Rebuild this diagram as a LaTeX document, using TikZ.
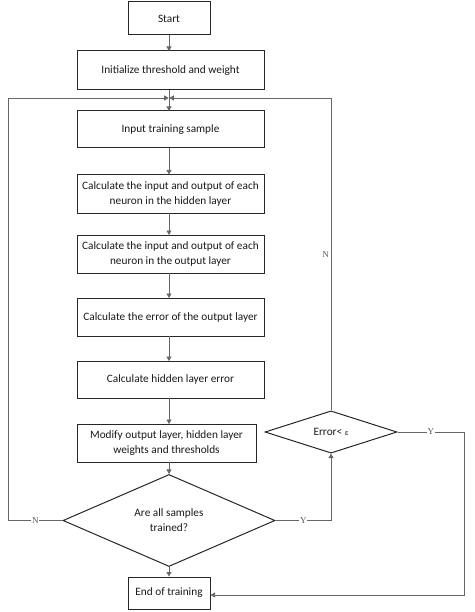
\documentclass[tikz,border=0pt]{standalone}
\usepackage{fontspec}
\setmainfont{Carlito}
\newfontfamily\labfont{Liberation Serif}
\usetikzlibrary{shapes.geometric,arrows.meta}
\begin{document}
\begin{tikzpicture}[x=1pt,y=-1pt,
  box/.style={draw=black!85,line width=1pt,align=center,font=\fontsize{11.3}{15}\selectfont,text=black!90,inner sep=1pt},
  dia/.style={draw=black!85,line width=1pt,diamond,align=center,font=\fontsize{11.3}{15}\selectfont,text=black!90,inner sep=0pt},
  conn/.style={draw=black!60,line width=0.75pt},
  arr/.style={conn,-{Triangle[width=5pt,length=4.5pt]}},
  lab/.style={font=\labfont\fontsize{9}{10}\selectfont,text=black!65,fill=white,inner sep=0.8pt}]
\useasboundingbox (0,0) rectangle (474,612);
\node[box,minimum width=82pt,minimum height=33pt] (start) at (169,18.5) {Start};
\node[box,minimum width=187pt,minimum height=39pt] (init) at (170.5,70.5) {Initialize threshold and weight};
\node[box,minimum width=187pt,minimum height=37pt] (input) at (170.5,129.5) {Input training sample};
\node[box,minimum width=187pt,minimum height=39pt] (hid) at (170.5,194) {Calculate the input and output of each\\neuron in the hidden layer};
\node[box,minimum width=187pt,minimum height=38pt] (out) at (170.5,254) {Calculate the input and output of each\\neuron in the output layer};
\node[box,minimum width=187pt,minimum height=38pt] (err) at (170.5,317) {Calculate the error of the output layer};
\node[box,minimum width=187pt,minimum height=37pt] (herr) at (170.5,379.5) {Calculate hidden layer error};
\node[box,minimum width=179pt,minimum height=38pt] (mod) at (166.5,443) {Modify output layer, hidden layer\\weights and thresholds};
\node[dia,minimum width=212pt,minimum height=67pt] (all) at (169,520.5) {Are all samples\\trained?};
\node[box,minimum width=82pt,minimum height=32pt] (end) at (169,593) {End of training};
\node[dia,minimum width=132pt,minimum height=42pt] (eps) at (331,432) {Error< {\footnotesize ε}};
\coordinate (j) at (169,98);
\coordinate (ll) at (8,520.5);
\coordinate (lt) at (8,98);
\coordinate (rt) at (331,98);
\coordinate (yb) at (331,520.5);
\coordinate (rr) at (464,432);
\coordinate (rb) at (464,595);
\draw[arr] (169,35) -- (169,51);
\draw[arr] (169,90) -- (169,111);
\draw[arr] (169,148) -- (169,174.5);
\draw[arr] (169,213.5) -- (169,235);
\draw[arr] (169,273) -- (169,298);
\draw[arr] (169,336) -- (169,361);
\draw[arr] (169,398) -- (169,424);
\draw[arr] (169,462) -- (all.north);
\draw[arr] (all.south) -- (end.north);
\draw[arr] (all.west) -- (ll) node[lab,pos=0.5] {N} -- (lt) -- ([xshift=-0.3pt]j);
\draw[arr] (eps.north) -- (rt) node[lab,pos=0.5,left,fill=none,xshift=-1pt] {N} -- ([xshift=0.3pt]j);
\draw[arr] (all.east) -- (yb) node[lab,pos=0.5] {Y} -- (eps.south);
\draw[arr] (eps.east) -- (rr) node[lab,pos=0.5] {Y} -- (rb) -- (end.east |- rb);
\end{tikzpicture}
\end{document}
